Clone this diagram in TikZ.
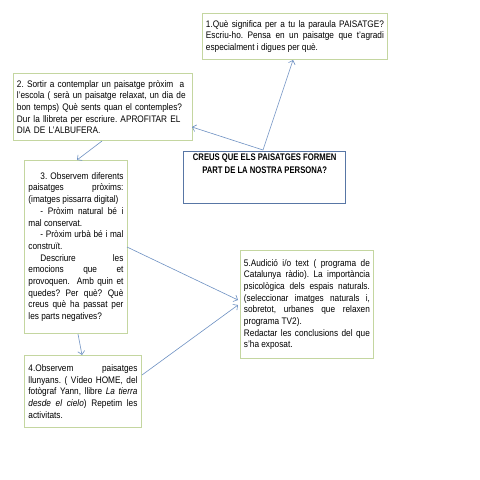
\documentclass[tikz,border=0pt]{standalone}
\usepackage{fontspec}
\setmainfont[FakeStretch=0.87]{Liberation Sans}
\newfontfamily\hubfont[FakeStretch=0.8]{Liberation Sans}
\usetikzlibrary{arrows.meta}
\frenchspacing

\definecolor{boxgreen}{RGB}{196,214,160}
\definecolor{hubblue}{RGB}{88,118,165}
\definecolor{linkblue}{RGB}{110,145,195}

\tikzset{
  textbox/.style={draw=boxgreen,line width=0.9pt,anchor=north west,inner sep=0pt,
    font=\fontsize{9.5}{11.7}\selectfont,align=justify},
  hubbox/.style={draw=hubblue,line width=1.4pt,anchor=north west,inner sep=0pt},
  link/.style={draw=linkblue,line width=0.6pt,-{Straight Barb[length=3.5pt,width=7pt]}}
}

\begin{document}
\begin{tikzpicture}[x=1pt,y=-1pt]
		\useasboundingbox[fill=white] (0,0) rectangle (480,480);

		\begin{scope}[every node/.style={textbox}]
			\node[minimum width=185pt,minimum height=46pt,text width=178pt] (q1) at (202,13)
			{1.Què significa per a tu la paraula PAISATGE?\linebreak
			Escriu-ho. Pensa en un paisatge que t'agradi\linebreak
			especialment i digues per què.};

			\node[minimum width=179pt,minimum height=67pt,text width=172pt,align=left] (q2) at (13,73)
			{2. Sortir a contemplar un paisatge pròxim\ \ a\\
			l'escola ( serà un paisatge relaxat, un dia de\\
			bon temps) Què sents quan el contemples?\\
			Dur la llibreta per escriure. APROFITAR EL\\
			DIA DE L'ALBUFERA.};

			\node[minimum width=103pt,minimum height=173pt,text width=95pt] (q3) at (24,160)
			{\hspace*{12pt}3. Observem diferents\linebreak
			paisatges pròxims:\linebreak
			(imatges pissarra digital)\par
			\hspace*{12pt}- Pròxim natural bé i\linebreak
			mal conservat.\par
			\hspace*{12pt}- Pròxim urbà bé i mal\linebreak
			construït.\par
			\hspace*{12pt}Descriure les\linebreak
			emocions que et\linebreak
			provoquen.\ \ Amb quin et\linebreak
			quedes? Per què? Què\linebreak
			creus què ha passat per\linebreak
			les parts negatives?};

			\node[minimum width=117pt,minimum height=72pt,text width=109pt] (q4) at (24,355)
			{4.Observem paisatges\linebreak
			llunyans. ( Vídeo HOME, del\linebreak
			fotògraf Yann, llibre \textit{La tierra}\linebreak
			\textit{desde el cielo}) Repetim les\linebreak
			activitats.};

			\node[minimum width=133pt,minimum height=108pt,text width=126pt] (q5) at (240,250)
			{5.Audició i/o text ( programa de\linebreak
			Catalunya ràdio). La importància\linebreak
			psicològica dels espais naturals.\linebreak
			(seleccionar imatges naturals i,\linebreak
			sobretot, urbanes que relaxen\linebreak
			programa TV2).\par
			Redactar les conclusions del que\linebreak
			s'ha exposat.};
		\end{scope}

		\node[hubbox,minimum width=162pt,minimum height=52pt] (hub) at (183,151) {};
		\node[anchor=north,inner sep=0pt,align=center,font=\hubfont\bfseries\fontsize{9.6}{12.5}\selectfont]
			(hubtext) at ([yshift=-3pt]hub.north)
			{CREUS QUE ELS PAISATGES FORMEN\\PART DE LA NOSTRA PERSONA?};

		% connectors
		\coordinate (hubtop) at (263,150);
		\coordinate (q1in) at (293,60);
		\coordinate (q2in) at (192,127);
		\coordinate (q2out) at (102,141);
		\coordinate (q3in) at (77,160);
		\coordinate (q3out) at (127,247);
		\coordinate (q3low) at (78,334);
		\coordinate (q4in) at (82,355);
		\coordinate (q4out) at (142,375);
		\coordinate (q5a) at (238,300);
		\coordinate (q5b) at (238,305);

		\draw[link] (hubtop) -- (q1in);
		\draw[link] (hubtop) -- (q2in);
		\draw[link] (q2out) -- (q3in);
		\draw[link] (q3out) -- (q5a);
		\draw[link] (q3low) -- (q4in);
		\draw[link] (q4out) -- (q5b);
\end{tikzpicture}
\end{document}
